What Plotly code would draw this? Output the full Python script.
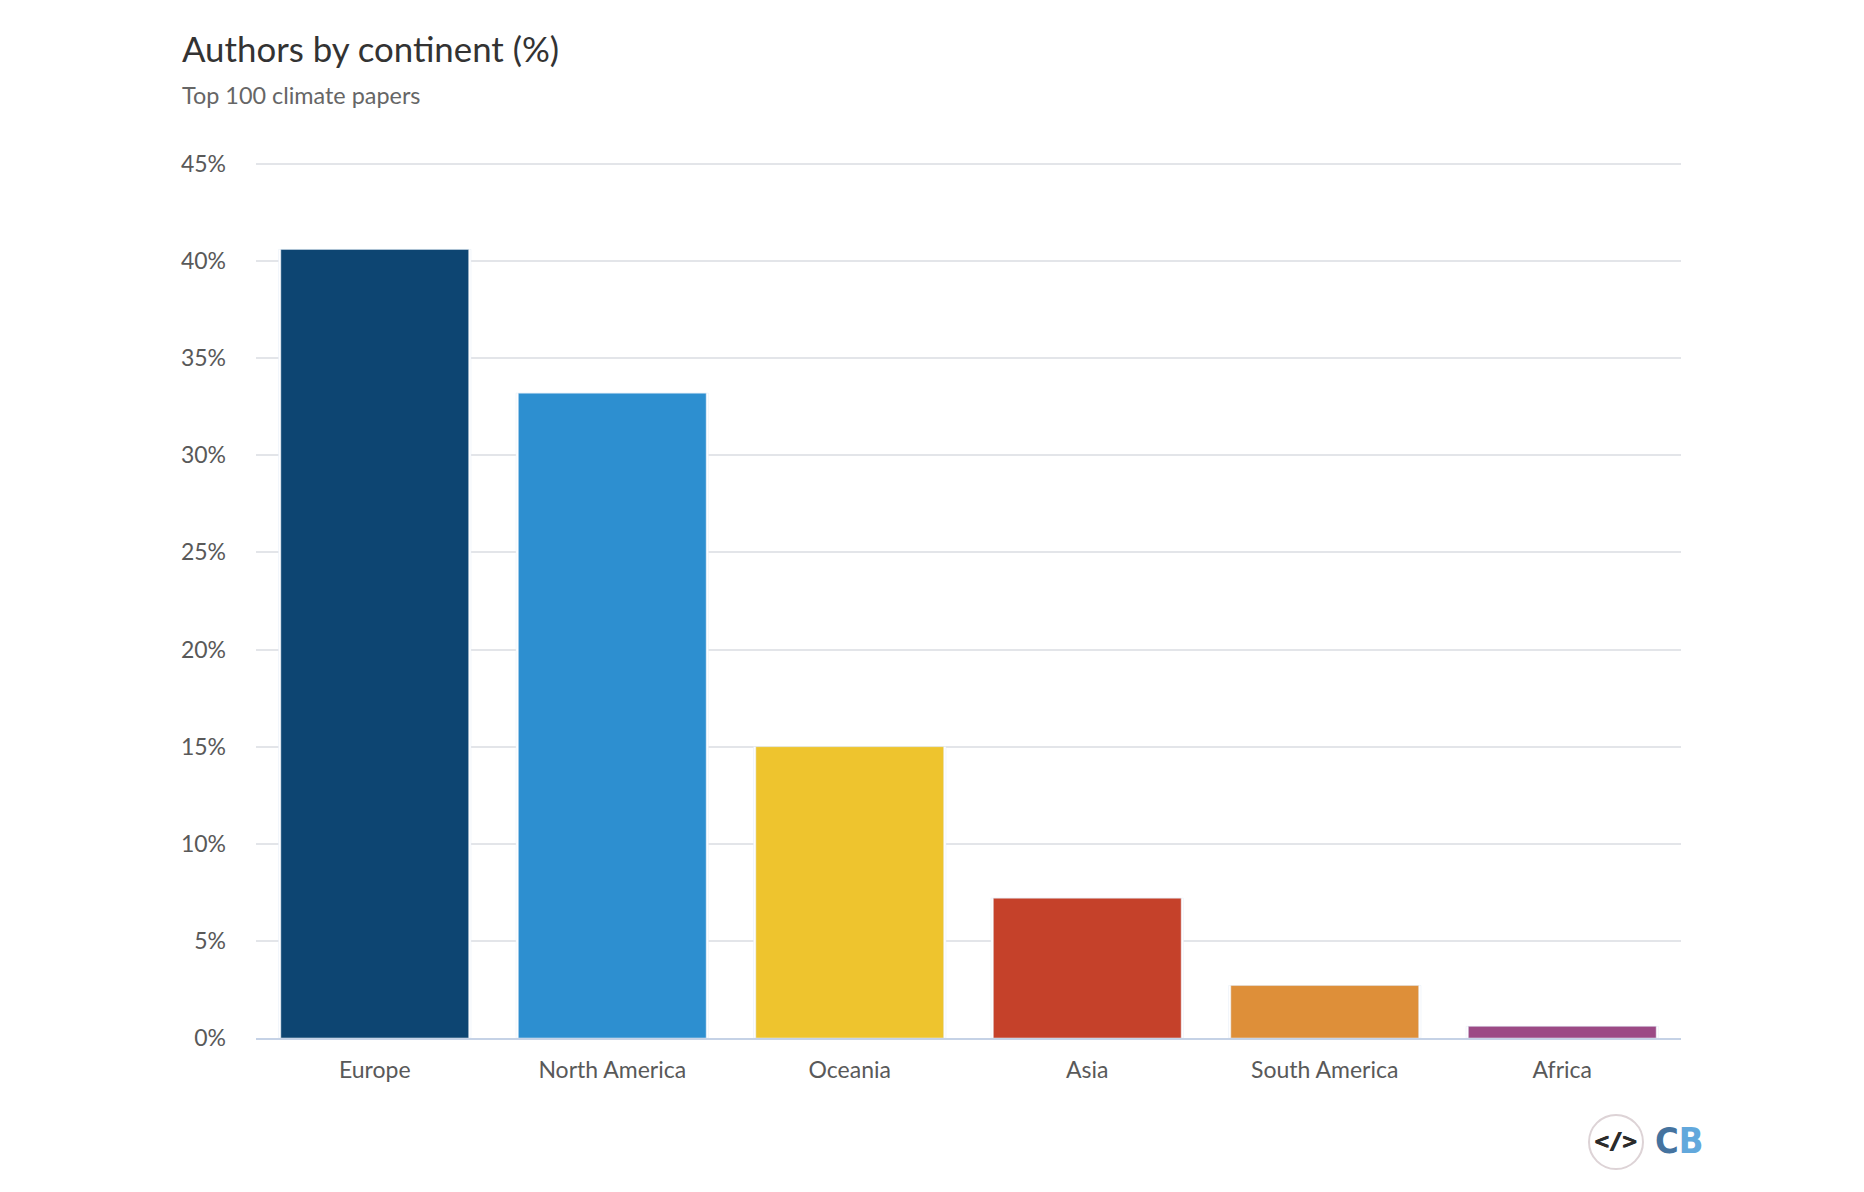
import plotly.graph_objects as go

continents = ['Europe', 'North America', 'Oceania', 'Asia', 'South America', 'Africa']
author_share = [40.6, 33.2, 15.0, 7.2, 2.7, 0.6]
bar_colors = ['#0d4572', '#2d8fd0', '#eec42e', '#c5412a', '#de8f39', '#9c4a85']
y_ticks = [0, 5, 10, 15, 20, 25, 30, 35, 40, 45]
y_tick_labels = ['{}%'.format(t) for t in y_ticks]

FONT = 'Lato'
WIDTH = 1864
HEIGHT = 1192
PLOT_L = 256
PLOT_R = 183
PLOT_T = 162
PLOT_B = 154
PLOT_W = WIDTH - PLOT_L - PLOT_R
PLOT_H = HEIGHT - PLOT_T - PLOT_B


def px_x(x):
    return (x - PLOT_L) / PLOT_W


def px_y(y):
    return 1 - (y - PLOT_T) / PLOT_H


fig = go.Figure()
# white halo so the gridlines stop just short of each bar
fig.add_trace(go.Bar(x=continents, y=author_share, width=0.81,
                     marker=dict(color='white'), hoverinfo='skip'))
fig.add_trace(go.Bar(x=continents, y=author_share, width=0.791,
                     marker=dict(color=bar_colors), hoverinfo='x+y'))

fig.update_layout(
    width=WIDTH,
    height=HEIGHT,
    margin=dict(l=PLOT_L, r=PLOT_R, t=PLOT_T, b=PLOT_B, pad=0),
    paper_bgcolor='white',
    plot_bgcolor='white',
    barmode='overlay',
    showlegend=False,
    font=dict(family=FONT, color='#595959', size=23),
    title=dict(
        text='Authors by continent (%)',
        x=182 / WIDTH,
        xanchor='left',
        y=1 - 50 / HEIGHT,
        yanchor='middle',
        font=dict(family=FONT, size=34.8, color='#333333'),
    ),
    xaxis=dict(
        showgrid=False,
        showline=True,
        linecolor='#c5d2e6',
        linewidth=2,
        ticks='',
        ticklabelstandoff=10,
    ),
    yaxis=dict(
        # a hair above 45 so the top gridline is not clipped away
        range=[0, 45.1],
        tickvals=y_ticks,
        ticktext=y_tick_labels,
        showgrid=True,
        gridcolor='#e3e5e9',
        gridwidth=2,
        zeroline=False,
        ticks='',
        ticklabelstandoff=29,
    ),
)

# subtitle
fig.add_annotation(
    text='Top 100 climate papers', xref='paper', yref='paper',
    x=px_x(180), y=px_y(95),
    xanchor='left', yanchor='middle', showarrow=False,
    font=dict(family=FONT, size=23.4, color='#666666'),
)

# logo, bottom right
fig.add_shape(
    type='circle', xref='paper', yref='paper',
    x0=px_x(1589), x1=px_x(1643), y0=px_y(1169), y1=px_y(1115),
    line=dict(color='#ddd3d6', width=2), fillcolor='white',
)
fig.add_annotation(
    text='<b>&lt;/&gt;</b>', xref='paper', yref='paper',
    x=px_x(1615.5), y=px_y(1140.5),
    xanchor='center', yanchor='middle', showarrow=False,
    font=dict(family='DejaVu Sans Mono', size=23, color='#2b2b2b',
              shadow='0.7px 0 0 #2b2b2b, -0.7px 0 0 #2b2b2b'),
)
fig.add_annotation(
    text='<b><span style="color:#45739f">C</span><span style="color:#62a8dc">B</span></b>',
    xref='paper', yref='paper',
    x=px_x(1679), y=px_y(1140),
    xanchor='center', yanchor='middle', showarrow=False,
    font=dict(family='DejaVu Sans Condensed', size=36),
)

fig.write_html('out.html', config=dict(displayModeBar=False),
               post_script="document.body.style.margin='0';")
